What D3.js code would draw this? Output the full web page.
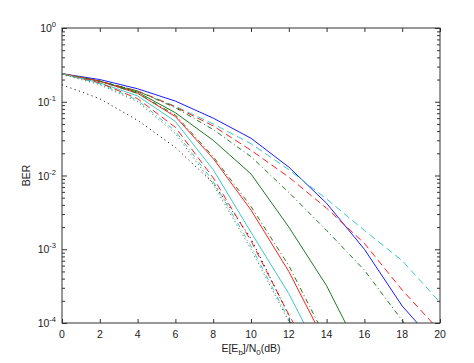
<!DOCTYPE html>
<html>
<head>
<meta charset="utf-8">
<script src="https://cdn.jsdelivr.net/npm/d3@7"></script>
<style>
  body { margin: 0; background: #fff; }
  svg { display: block; }
  text { font-family: "Liberation Sans", Arial, sans-serif; fill: #222; }
</style>
</head>
<body>
<svg></svg>
<script>
(function (d3) {
    'use strict';

    // Eb/N0 grid (dB) and BER, one array per curve
    const snr = [0, 2, 4, 6, 8, 10, 12, 14, 16, 18, 20];
    const xTicks = [0, 2, 4, 6, 8, 10, 12, 14, 16, 18, 20];
    const yTicks = [1e-4, 1e-3, 1e-2, 1e-1, 1];
    const yTickExp = ['-4', '-3', '-2', '-1', '0'];

    const berBlueSolid   = [0.24, 0.20, 0.15, 0.102, 0.06, 0.032, 0.013, 0.0042, 0.001, 0.00017];
    const berCyanDash    = [0.24, 0.19, 0.14, 0.087, 0.05, 0.027, 0.012, 0.0048, 0.0018, 0.0007, 0.00019];
    const berRedDash     = [0.24, 0.19, 0.14, 0.085, 0.047, 0.022, 0.0095, 0.0036, 0.0012, 0.00028];
    const berGreenDashDot = [0.24, 0.19, 0.14, 0.083, 0.042, 0.018, 0.0059, 0.0018, 0.00052];
    const berGreenSolid  = [0.24, 0.19, 0.135, 0.071, 0.03, 0.0105, 0.002, 0.00032];
    const berRedSolid    = [0.24, 0.19, 0.13, 0.063, 0.017, 0.0034, 0.0005];
    const berGreenDashDot2 = [0.24, 0.19, 0.13, 0.066, 0.018, 0.0038, 0.0006];
    const berCyanSolid   = [0.24, 0.18, 0.12, 0.054, 0.012, 0.0017, 0.00025];
    const berRedDash2    = [0.24, 0.18, 0.11, 0.045, 0.0093, 0.0013, 0.00013];
    const berCyanDash2   = [0.24, 0.175, 0.105, 0.04, 0.0083, 0.0011, 0.000112];
    const berGreenDot    = [0.235, 0.17, 0.10, 0.037, 0.0076, 0.001, 0.000105];
    const berBlackDot    = [0.17, 0.11, 0.056, 0.024, 0.0079, 0.0014, 0.000126];
    // Eb/N0 where each curve leaves the bottom of the plot (BER = 1e-4)
    const floorSnr = [18.8, null, 19.6, 18.1, 15.0, 13.4, 13.55, 12.8, 12.25, 12.1, 12.02, 12.12];

    const curves = [
        {ber: berBlueSolid, color: '#1a1aff', dash: null},
        {ber: berCyanDash, color: '#3cc8c8', dash: '7,4'},
        {ber: berRedDash, color: '#ff2020', dash: '7,4'},
        {ber: berGreenDashDot, color: '#1f7a1f', dash: '5,3,1,3'},
        {ber: berGreenSolid, color: '#1f7a1f', dash: null},
        {ber: berRedSolid, color: '#ff2020', dash: null},
        {ber: berGreenDashDot2, color: '#1f7a1f', dash: '5,3,1,3'},
        {ber: berCyanSolid, color: '#3cc8c8', dash: null},
        {ber: berRedDash2, color: '#ff2020', dash: '7,4'},
        {ber: berCyanDash2, color: '#3cc8c8', dash: '5,3,1,3'},
        {ber: berGreenDot, color: '#1f7a1f', dash: '1,3'},
        {ber: berBlackDot, color: '#000000', dash: '1,3.5'}
    ];

    const width = 474;
    const height = 363;
    const margin = {top: 28, right: 34, bottom: 40, left: 62};
    const innerWidth = width - margin.left - margin.right;
    const innerHeight = height - margin.top - margin.bottom;

    const svg = d3.select('svg')
        .attr('width', width)
        .attr('height', height);

    svg.append('rect').attr('width', width).attr('height', height).attr('fill', '#fff');

    const x = d3.scaleLinear().domain([0, 20]).range([0, innerWidth]);
    const y = d3.scaleLog().domain([1e-4, 1]).range([innerHeight, 0]);

    const g = svg.append('g')
        .attr('transform', `translate(${margin.left},${margin.top})`);

    g.append('clipPath').attr('id', 'clip')
        .append('rect').attr('width', innerWidth).attr('height', innerHeight);

    // curves
    const line = d3.line()
        .x(d => x(d[0]))
        .y(d => y(d[1]));

    curves.forEach((c, i) => {
        const pts = c.ber.map((v, j) => [snr[j], v]);
        if (floorSnr[i] !== null) pts.push([floorSnr[i], 1e-4]);
        g.append('path')
            .datum(pts)
            .attr('clip-path', 'url(#clip)')
            .attr('fill', 'none')
            .attr('stroke', c.color)
            .attr('stroke-width', 1)
            .attr('stroke-dasharray', c.dash)
            .attr('d', line);
    });

    // ticks, inward on all four sides
    const minorTicks = [];
    for (let e = -4; e < 0; e++) {
        for (let k = 2; k <= 9; k++) minorTicks.push(k * Math.pow(10, e));
    }

    const axisStyle = sel => {
        sel.select('.domain').remove();
        sel.selectAll('line').attr('stroke', '#333');
        sel.selectAll('text').remove();
    };

    g.append('g').attr('transform', `translate(0,${innerHeight})`)
        .call(d3.axisBottom(x).tickValues(xTicks).tickSize(-4)).call(axisStyle);
    g.append('g')
        .call(d3.axisTop(x).tickValues(xTicks).tickSize(-4)).call(axisStyle);
    g.append('g')
        .call(d3.axisLeft(y).tickValues(yTicks).tickSize(-5)).call(axisStyle);
    g.append('g').attr('transform', `translate(${innerWidth},0)`)
        .call(d3.axisRight(y).tickValues(yTicks).tickSize(-5)).call(axisStyle);
    g.append('g')
        .call(d3.axisLeft(y).tickValues(minorTicks).tickSize(-3)).call(axisStyle);
    g.append('g').attr('transform', `translate(${innerWidth},0)`)
        .call(d3.axisRight(y).tickValues(minorTicks).tickSize(-3)).call(axisStyle);

    // frame
    g.append('rect')
        .attr('width', innerWidth)
        .attr('height', innerHeight)
        .attr('fill', 'none')
        .attr('stroke', '#333')
        .attr('stroke-width', 1);

    // x tick labels
    g.selectAll('.xlab').data(xTicks)
        .enter().append('text')
        .attr('x', d => x(d))
        .attr('y', innerHeight + 15)
        .attr('text-anchor', 'middle')
        .attr('font-size', 10.5)
        .text(d => d);

    // y tick labels 10^n
    const ylab = g.selectAll('.ylab').data(yTicks)
        .enter().append('text')
        .attr('x', -6)
        .attr('y', d => y(d) + 4)
        .attr('text-anchor', 'end')
        .attr('font-size', 10.5);
    ylab.append('tspan').text('10');
    ylab.append('tspan')
        .attr('dy', -5)
        .attr('font-size', 7.5)
        .text((d, i) => yTickExp[i]);

    // axis titles
    svg.append('text')
        .attr('transform', `translate(30,${margin.top + innerHeight / 2}) rotate(-90)`)
        .attr('text-anchor', 'middle')
        .attr('font-size', 10.5)
        .text('BER');

    const xt = svg.append('text')
        .attr('x', margin.left + innerWidth / 2)
        .attr('y', 352)
        .attr('text-anchor', 'middle')
        .attr('font-size', 10.5);
    xt.append('tspan').text('E[E');
    xt.append('tspan').attr('dy', 3).attr('font-size', 8).text('b');
    xt.append('tspan').attr('dy', -3).text(']/N');
    xt.append('tspan').attr('dy', 3).attr('font-size', 8).text('0');
    xt.append('tspan').attr('dy', -3).text('(dB)');
}(d3));
</script>
</body>
</html>
